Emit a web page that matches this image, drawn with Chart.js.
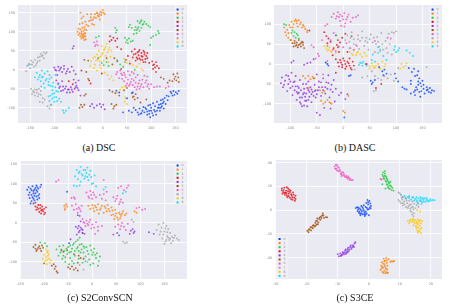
<!DOCTYPE html>
<html lang="en">
<head>
  <meta charset="UTF-8" />
  <title>t-SNE clusters</title>
  <script src="https://cdn.jsdelivr.net/npm/chart.js"></script>
  <style>
    body { margin: 0; background: #fff; width: 463px; height: 307px; overflow: hidden; position: relative; }
    .panel { position: absolute; width: 192px; }
    .caption { position: absolute; transform: translateX(-50%); font: 10px 'Liberation Serif', serif; color: #111; white-space: nowrap; line-height: 12px; }
  </style>
</head>
<body>
  <div class="panel" style="left:0;top:0;height:135px"><canvas id="dsc"></canvas></div>
  <div class="panel" style="left:255px;top:0;height:135px"><canvas id="dasc"></canvas></div>
  <div class="panel" style="left:0;top:154px;height:140px"><canvas id="s2conv"></canvas></div>
  <div class="panel" style="left:255px;top:154px;height:140px"><canvas id="s3ce"></canvas></div>
  <div class="caption" style="left:99px;top:142px">(a) DSC</div>
  <div class="caption" style="left:355px;top:142px">(b) DASC</div>
  <div class="caption" style="left:100px;top:292px">(c) S2ConvSCN</div>
  <div class="caption" style="left:355px;top:292px">(c) S3CE</div>

  <script>
    const classLabels = ['0', '1', '2', '3', '4', '5', '6', '7', '8', '9'];
    const classColors = ['#023eff', '#ff7c00', '#1ac938', '#e8000b', '#8b2be2', '#9f4800', '#f14cc1', '#a3a3a3', '#ffc400', '#00d7ff'];

    // --- (a) DSC
    const dscXTicks = [-150, -100, -50, 0, 50, 100, 150];
    const dscYTicks = [150, 100, 50, 0, -50, -100];
    const dsc0 = [[54,-108],[60,-112],[64,-100],[68,-106],[72,-112],[76,-102],[78,-116],[82,-108],[84,-98],[86,-112],[90,-104],[92,-118],[94,-94],[96,-108],[98,-125],[100,-100],[102,-114],[104,-88],[106,-106],[108,-96],[110,-118],[112,-84],[114,-100],[116,-92],[118,-108],[120,-80],[122,-96],[124,-88],[126,-102],[128,-74],[130,-90],[132,-68],[134,-80],[62,-60],[50,-75],[42,-112],[28,-55],[34,-60],[142,-62],[146,-56],[148,-66],[151,-59],[154,-63],[157,-56],[144,-68],[140,-58],[120,-100],[100,-108],[96,-116],[104,-120],[108,-110],[112,-108],[116,-100],[120,-90],[124,-78],[126,-84],[88,-100],[80,-114],[74,-118],[92,-110],[98,-92],[136,-70]];
    const dsc1 = [[-46,150],[-44,135],[-40,140],[-36,126],[-32,146],[-28,128],[-25,138],[-22,120],[-20,132],[-16,146],[-14,136],[-11,148],[-8,140],[-5,152],[-3,144],[0,157],[2,150],[4,146],[-6,132],[-18,118],[-30,115],[-34,118],[-38,112],[-42,122],[-48,120],[-50,108],[-52,100],[-48,96],[-46,106],[-44,100],[-42,92],[-40,102],[-38,96],[-36,88],[-34,104],[-46,88],[-44,82],[-40,84],[-38,78],[-35,80],[-12,150],[-24,146],[-42,110],[-37,106],[-50,92],[-44,94],[-40,92],[-38,88],[-36,96],[-42,86],[-10,142],[-7,146],[-2,150],[-18,138],[-24,130]];
    const dsc2 = [[72,128],[76,122],[80,130],[82,118],[86,126],[90,120],[94,116],[98,112],[68,112],[72,108],[66,104],[76,102],[70,96],[64,94],[60,110],[56,118],[54,112],[26,110],[29,104],[27,98],[46,84],[50,78],[48,72],[54,82],[58,74],[62,76],[52,70],[104,88],[110,92],[114,102],[116,96],[100,84],[98,65],[-14,85],[-8,88],[30,25],[36,14],[42,8],[46,20],[8,20],[12,10],[-2,18],[-10,30],[2,12],[66,0],[92,-18],[78,126],[84,120],[74,112],[70,104],[80,110]];
    const dsc3 = [[15,88],[18,78],[22,84],[26,76],[14,74],[30,82],[60,48],[64,40],[66,54],[70,32],[72,46],[74,38],[76,52],[78,26],[80,44],[82,34],[84,50],[86,40],[88,28],[90,36],[92,44],[68,24],[76,30],[84,20],[102,22],[106,14],[108,6],[110,20],[112,10],[116,4],[104,2],[48,26],[56,16],[52,36],[38,54],[30,60],[-44,-2],[-28,-28],[-25,-36],[-70,-30],[-62,-38],[-2,-10],[96,18],[68,42],[74,48],[80,36],[86,46],[72,28],[82,26],[88,20],[92,30],[62,32]];
    const dsc4 = [[-100,6],[-96,-2],[-92,8],[-88,2],[-84,-6],[-80,10],[-76,-10],[-72,2],[-68,-6],[-64,8],[-60,-2],[-56,-12],[-94,-14],[-90,-48],[-86,-56],[-82,-44],[-78,-50],[-74,-60],[-70,-52],[-66,-46],[-62,-58],[-58,-50],[-54,-42],[-50,-54],[-56,-34],[-50,-28],[-60,-26],[-92,-36],[-96,-28],[-26,-96],[-22,-90],[-18,-100],[-12,-94],[-6,-90],[-3,-98],[1,-92],[4,-104],[-62,56],[-60,62],[-46,-68],[-84,-30],[-98,0],[-90,-2],[-86,6],[-80,2],[-74,-4],[-72,-52],[-68,-60],[-64,-52],[-76,-44],[-82,-54],[-56,-46],[-52,-48],[-88,-44]];
    const dsc5 = [[146,-12],[150,-18],[154,-10],[148,-24],[152,-28],[156,-20],[144,-30],[138,-28],[134,-34],[157,-32],[60,-62],[64,-70],[68,-64],[72,-74],[66,-78],[62,-72],[14,-54],[20,-58],[26,-62],[34,-68],[44,-54],[50,-48],[-45,-92],[-42,-98],[-48,-100],[-38,-92],[18,-90],[24,-96],[28,-92],[22,-102],[-35,-64],[-38,-68],[-30,-24],[-34,-6],[-30,24],[-38,26],[24,30],[30,22],[38,2],[104,12],[110,-6],[120,-20],[126,-24],[90,-78],[20,14],[8,30],[78,-86]];
    const dsc6 = [[-18,72],[-14,66],[-12,74],[-16,62],[-10,64],[30,-6],[36,-2],[40,-14],[34,-22],[44,-8],[48,-20],[52,-4],[56,-14],[60,-24],[64,-10],[68,-20],[44,-30],[50,-36],[58,-32],[62,-40],[68,-34],[72,-44],[76,-28],[80,-38],[84,-46],[88,-34],[92,-44],[96,-50],[76,-50],[70,-52],[100,-38],[106,-46],[112,-44],[118,-44],[130,-48],[136,-44],[28,-12],[40,-24],[54,-42],[66,-46],[82,-26],[86,-16],[38,-10],[46,-14],[52,-26],[56,-38],[64,-28],[74,-36],[78,-44],[90,-28],[60,-6],[72,-14],[94,-38],[48,-42]];
    const dsc7 = [[-158,-4],[-156,10],[-152,16],[-150,4],[-148,24],[-146,14],[-142,8],[-140,26],[-136,18],[-134,32],[-130,24],[-126,36],[-122,30],[-118,42],[-128,42],[-116,46],[-122,46],[-148,-50],[-144,-56],[-140,-52],[-146,-64],[-136,-60],[-132,-50],[-128,-56],[-140,-68],[-134,-70],[-128,-66],[-124,-74],[-130,-84],[-124,-86],[-114,-96],[-110,-102],[-108,-92],[-120,-78],[-144,20],[-138,12],[-134,22],[-130,34],[-124,38],[-150,14],[-142,-60],[-136,-52],[-132,-64]];
    const dsc8 = [[-24,22],[-20,30],[-16,14],[-12,40],[-10,26],[-8,50],[-6,12],[-4,34],[-2,62],[0,44],[2,24],[4,54],[6,36],[8,68],[10,46],[12,20],[14,58],[16,34],[18,50],[-18,4],[-12,-2],[-4,4],[4,-8],[10,-14],[14,-24],[18,-18],[22,-28],[-26,10],[36,-52],[40,-46],[30,-60],[46,-44],[48,-76],[46,-84],[50,-90],[46,-72],[44,28],[50,18],[56,22],[62,12],[70,8],[76,16],[80,2],[84,-2],[-14,24],[-8,32],[-6,22],[-2,40],[2,52],[6,60],[12,52],[-16,34]];
    const dsc9 = [[-140,-20],[-136,-8],[-134,-26],[-130,-14],[-128,-30],[-126,-2],[-124,-18],[-122,-36],[-120,-10],[-116,-24],[-114,-4],[-112,-32],[-110,-14],[-108,-42],[-106,-20],[-104,-54],[-102,-34],[-100,-62],[-98,-46],[-104,-76],[-100,-84],[-110,-82],[-106,-92],[-112,-70],[-96,-72],[-92,-58],[-92,-38],[-90,-76],[-86,-84],[-98,-14],[-82,-107],[-80,-113],[-76,-108],[-70,-100],[-120,-48],[-127,-44],[-154,12],[-132,-20],[-126,-20],[-118,-28],[-110,-24],[-104,-44],[-100,-72],[-108,-68],[-96,-56],[-104,-64],[-94,-82],[-112,-40]];

    // --- (b) DASC
    const dascXTicks = [-100, -50, 0, 50, 100, 150];
    const dascYTicks = [100, 50, 0, -50, -100];
    const dasc0 = [[100,-36],[104,-44],[112,-58],[116,-62],[120,-64],[124,-10],[130,-20],[134,-12],[136,-30],[140,-28],[142,-18],[144,-36],[146,-48],[138,-58],[134,-70],[128,-74],[136,-78],[140,-64],[144,-70],[148,-56],[150,-42],[152,-62],[154,-74],[146,-82],[158,-66],[162,-70],[164,-60],[168,-66],[172,-68],[158,-58],[128,-42],[52,-42],[56,-46],[60,-40],[54,-50],[74,-18],[78,-14],[82,-24],[76,-28],[68,-8],[11,-30],[14,-28],[-30,0],[-28,-4],[-33,4],[2,-134],[98,-24],[128,-50],[142,-52],[148,-68],[152,-52],[142,-44],[136,-66],[160,-64],[166,-72]];
    const dasc1 = [[-106,86],[-110,80],[-108,72],[-104,66],[-100,60],[-112,92],[-102,98],[-98,106],[-92,108],[-88,102],[-84,110],[-80,104],[-76,98],[-72,88],[-68,80],[-94,100],[-86,94],[-78,92],[-90,112],[-96,92],[-76,-30],[-72,-36],[-66,-30],[-62,-38],[-58,-32],[-54,-36],[-42,-92],[-38,-100],[-34,-96],[-30,-90],[-26,-96],[-22,-100],[-44,-66],[-40,-72],[-36,-68],[-24,-98],[0,-118],[3,-122],[-65,-60],[10,-80],[-68,84],[-104,78],[-100,92],[-82,100],[-88,108],[-74,94]];
    const dasc2 = [[-112,100],[-108,98],[-96,84],[-92,80],[-88,76],[-94,70],[-90,66],[-86,72],[-84,64],[-98,78],[-13,72]];
    const dasc3 = [[-36,80],[-32,70],[-28,64],[-30,52],[-24,56],[-18,40],[-14,72],[-10,60],[-6,54],[-12,48],[-2,66],[4,76],[-14,12],[-10,4],[-6,10],[-2,-2],[2,8],[6,-6],[10,2],[14,-10],[18,6],[4,-12],[0,14],[-8,-6],[12,14],[20,-4],[16,-14],[-20,22],[-14,-22],[44,0],[62,-60],[72,-50],[-8,30],[8,30],[-64,84],[-4,4],[4,0],[8,6],[-2,-8],[12,-4]];
    const dasc4 = [[-118,-48],[-116,-34],[-114,-58],[-110,-42],[-108,-28],[-106,-68],[-104,-50],[-102,-38],[-100,-60],[-98,-22],[-96,-78],[-94,-46],[-92,-66],[-90,-30],[-88,-90],[-86,-56],[-84,-72],[-82,-40],[-80,-100],[-78,-84],[-76,-50],[-74,-62],[-72,-92],[-70,-74],[-68,-106],[-66,-44],[-64,-82],[-62,-58],[-60,-96],[-58,-70],[-56,-36],[-54,-52],[-52,-84],[-50,-122],[-48,-66],[-46,-44],[-44,-128],[-42,-80],[-40,-58],[-38,-36],[-36,-110],[-34,-74],[-32,-46],[-30,-62],[-28,-28],[-26,-84],[-24,-112],[-22,-52],[-20,-70],[-18,-40],[-16,-94],[-14,-62],[-92,-44],[-84,-60],[-76,-76],[-68,-60],[-78,-106],[-86,-74],[-70,-50],[-60,-76],[-96,-56],[-104,-30],[-66,-90],[-52,-66],[-8,-78],[-4,-72],[4,-88],[8,-76],[-98,4],[-94,8],[-74,-2],[-68,2],[-62,4],[-56,12],[-50,-26],[-112,-52],[-100,-44],[-90,-56],[-88,-70],[-82,-84],[-80,-66],[-74,-72],[-72,-82],[-70,-92],[-66,-66],[-64,-70],[-60,-64],[-56,-80],[-54,-68],[-50,-76],[-82,-96],[-74,-104],[-46,-58],[-42,-46],[-38,-66],[-34,-58],[-28,-48],[-24,-64]];
    const dasc5 = [[-99,60],[-96,52],[-92,58],[-90,46],[-88,54],[-86,42],[-84,60],[-82,50],[-80,44],[-78,56],[-76,48],[-74,40],[-94,44],[-84,48],[-10,42],[16,70],[-88,48],[-80,52],[-92,52],[-76,54]];
    const dasc6 = [[-22,118],[-18,126],[-14,114],[-10,130],[-6,108],[-2,120],[2,128],[6,112],[10,124],[14,106],[18,116],[24,118],[28,122],[-4,96],[2,94],[-30,100],[-34,96],[-60,48],[-56,42],[-40,60],[-30,46],[-20,36],[-14,32],[-8,44],[0,42],[6,52],[12,40],[20,36],[26,46],[-46,20],[-52,14],[-30,8],[-38,-26],[60,58],[84,66],[90,64],[-24,60],[-18,78],[-48,26],[-12,120],[-6,124],[0,112],[4,102],[-8,118],[8,118]];
    const dasc7 = [[4,60],[8,72],[12,56],[16,80],[20,62],[24,48],[28,72],[32,58],[36,82],[40,46],[44,66],[48,36],[52,74],[56,54],[60,30],[64,68],[68,44],[72,78],[76,36],[80,58],[84,28],[88,50],[92,24],[86,76],[92,80],[96,78],[100,82],[14,40],[30,38],[46,54],[62,50],[54,-18],[60,-30],[66,-36],[72,-40],[78,-30],[84,-36],[90,-26],[96,-42],[62,-66],[58,-68],[104,-10],[46,-30],[22,-14],[36,-34],[158,-8],[20,50],[36,66],[42,58],[50,62],[58,66],[66,56],[74,50],[70,32],[28,62],[14,66],[82,40]];
    const dasc8 = [[-36,46],[-32,40],[-30,34],[-26,42],[-22,30],[-18,36],[-14,28],[12,30],[16,26],[20,34],[24,22],[28,30],[32,24],[36,18],[40,28],[44,20],[46,-2],[50,-6],[54,2],[58,-10],[62,-4],[66,0],[70,-12],[74,6],[78,-6],[80,0],[50,-12],[110,0],[114,-8],[118,-4],[120,2],[108,-12],[-28,36],[-24,32],[18,22],[26,28],[56,-4],[60,-8],[68,-6]];
    const dasc9 = [[30,-2],[32,4],[36,-4],[38,6],[42,0],[44,-4],[35,2],[54,10],[60,6],[56,24],[66,28],[70,36],[66,42],[76,20],[96,36],[100,30],[104,34],[98,44],[106,40],[120,34],[126,28],[132,20],[82,10]];

    // --- (c) S2ConvSCN
    const s2XTicks = [-150, -100, -50, 0, 50, 100, 150];
    const s2YTicks = [150, 100, 50, 0, -50, -100];
    const s20 = [[-135,85],[-132,92],[-130,78],[-128,88],[-126,72],[-124,94],[-122,82],[-120,70],[-118,90],[-116,96],[-114,80],[-112,88],[-110,74],[-108,92],[-106,98],[-130,64],[-126,56],[-122,62],[-118,52],[-114,60],[-110,64],[-128,50],[-116,68],[-122,76],[-52,80],[-48,-52],[-126,84],[-120,86],[-124,66],[-118,76],[-112,70],[-132,72],[-120,58],[-114,92],[-116,84]];
    const s21 = [[-8,44],[-4,36],[0,46],[4,30],[8,40],[12,48],[16,34],[20,44],[24,26],[28,38],[32,46],[36,30],[40,40],[44,22],[48,34],[52,14],[56,26],[60,18],[64,30],[68,20],[71,24],[46,10],[54,8],[58,12],[-58,44],[-56,38],[-54,48],[-52,42],[-57,34],[88,30],[92,26],[14,24],[40,20],[2,38],[10,34],[18,38],[26,42],[34,36],[42,32],[50,24],[58,22],[62,24],[6,44],[30,30],[48,18]];
    const s22 = [[-74,-68],[-70,-84],[-66,-76],[-62,-92],[-58,-72],[-56,-100],[-52,-80],[-50,-62],[-46,-90],[-44,-74],[-40,-56],[-38,-104],[-36,-84],[-32,-66],[-30,-44],[-28,-92],[-24,-76],[-22,-54],[-20,-102],[-16,-64],[-14,-86],[-10,-72],[-6,-94],[-4,-58],[0,-82],[2,-104],[4,-66],[8,-90],[10,-78],[12,-110],[14,-98],[16,-86],[-26,-38],[-34,-48],[-60,-58],[-68,-60],[-108,-50],[-98,-52],[-94,-60],[-42,-98],[-4,-108],[-18,-76],[-48,-106],[-64,-68],[-60,-84],[-54,-66],[-48,-76],[-42,-66],[-38,-52],[-36,-72],[-30,-62],[-26,-56],[-22,-68],[-18,-60],[-12,-62],[-8,-80],[-2,-70],[2,-76],[6,-82],[-46,-58],[-56,-88],[-28,-72],[-14,-98]];
    const s23 = [[-122,50],[-118,42],[-116,34],[-112,46],[-110,28],[-108,38],[-106,24],[-104,42],[-102,30],[-100,36],[-98,26],[-96,40],[-112,36],[-106,32],[-100,22],[-114,40],[-108,46],[-104,34]];
    const s24 = [[-34,-10],[-30,-14],[-28,-8],[-26,-20],[-22,-16],[-20,-26],[-16,-28],[-28,-24],[-30,20],[-26,18],[-24,4],[80,-20],[84,-16],[86,-26],[78,-28],[88,-22],[44,-30],[52,-26],[56,-32],[-45,-42],[128,-28],[118,-24],[-32,-30],[-24,-12],[-20,-18]];
    const s25 = [[-122,-62],[-118,-56],[-114,-68],[-110,-60],[-106,-72],[-104,-58],[-102,-64],[-116,-72],[-80,-106],[-78,-118],[-76,-112],[-74,-124],[-72,-128],[-84,-110],[-100,-104],[-50,-114],[-46,-118],[-42,-112],[-38,-120],[-34,-116],[-30,-122],[-38,-80],[-28,-84],[-24,-90],[-18,-92],[-60,-74],[-52,-70],[-64,-70],[-20,-26],[-30,-102],[-112,-64],[-118,-66],[-108,-66]];
    const s26 = [[-12,78],[-8,68],[-4,82],[0,62],[4,72],[8,66],[16,72],[20,62],[24,74],[28,58],[-6,64],[44,66],[48,56],[52,70],[56,48],[60,60],[64,52],[54,90],[60,94],[66,84],[72,90],[75,96],[30,80],[24,110],[-43,64],[-38,66],[-36,62],[-42,44],[-38,34],[-34,48],[-30,26],[-28,40],[-24,30],[-22,44],[-26,36],[-20,10],[-16,0],[-12,6],[-8,-6],[-4,8],[0,-4],[4,-12],[8,2],[-14,-8],[-2,-14],[12,-10],[20,-8],[54,-4],[58,-16],[62,0],[66,-10],[70,-18],[74,-2],[48,-10],[92,38],[98,40],[104,34],[110,36],[-75,106],[-70,110],[12,-20],[6,-28],[-2,72],[2,78],[50,62],[58,54],[-32,36],[-18,2],[-10,-2],[-6,2],[60,-8]];
    const s27 = [[134,-18],[138,-4],[140,-30],[144,-12],[146,-40],[148,0],[150,-22],[152,-48],[154,-8],[156,-34],[158,-16],[160,-44],[162,-26],[164,-52],[166,-36],[168,-46],[172,-32],[176,-40],[180,-44],[150,-54],[142,-22],[64,-48],[68,-52],[72,-50],[82,8],[86,2],[-10,-100],[-26,-108],[-18,-120],[152,-14],[156,-24],[148,-30],[158,-38],[162,-40],[154,-44],[170,-38]];
    const s28 = [[-96,-68],[-94,-76],[-92,-72],[-100,-82],[-96,-88],[-92,-84],[-90,-80],[-102,-92],[-98,-98],[-94,-96],[-90,-92],[-88,-102],[-94,-106],[-86,-96]];
    const s29 = [[-36,120],[-32,136],[-30,112],[-28,128],[-24,144],[-24,106],[-20,122],[-18,136],[-16,114],[-12,128],[-10,142],[-8,110],[-6,124],[-4,134],[-2,118],[-38,96],[-32,94],[-26,96],[-1,100],[8,94],[5,122],[24,86],[28,92],[64,76],[70,80],[2,102],[-26,132],[-22,126],[-14,136],[-14,120],[-10,118]];

    // --- (c) S3CE
    const s3XTicks = [-30, -20, -10, 0, 10, 20];
    const s3YTicks = [40, 20, 0, -20, -40];
    const s30 = [[-4.2,1.8],[-3.8,2.6],[-3.4,0.8],[-3.2,-2.2],[-2.9,1.6],[-2.7,-4.2],[-2.4,3.6],[-2.2,-0.8],[-2.0,-3.4],[-1.8,1.2],[-1.6,4.2],[-1.4,-1.8],[-1.3,-4.8],[-1,2.8],[-0.8,6.2],[-0.7,-2.8],[-0.4,0.6],[-0.2,4.8],[0,-4.2],[0.2,7.8],[0.3,2.4],[0.5,5.8],[-0.4,8.6],[0.7,3.6],[-3,-1],[-1.4,-3.4],[-3.6,-0.6],[-2.8,-2.8],[-2.6,0.4],[-2.4,-2.6],[-1.6,-0.2],[-1,-1],[-1,-3.6],[-0.6,2],[-2,2.6],[0,0.8],[-3.4,2.4],[-0.2,6.8],[0.6,1.6]];
    const s31 = [[3.8,-50.2],[4,-46.8],[4.2,-43.8],[4.4,-52],[4.6,-48.4],[4.8,-40.8],[5,-45.6],[5,-51],[5.2,-42.6],[5.4,-48.6],[5.6,-40.2],[5.8,-44.4],[6,-50],[6,-46.8],[6.2,-52.6],[6.4,-41.4],[5.4,-53.2],[7,-43.4],[7.4,-43],[7.8,-43.2],[8.2,-42.8],[4.2,-49],[4.8,-53],[5.2,-47],[5.6,-49.6],[4.6,-45],[5.8,-42.4],[6,-53],[5,-43],[4.4,-47.6],[5.6,-52]];
    const s32 = [[4.4,30],[4.6,32],[4.8,27],[5,29],[5.2,31],[5.4,25],[5.6,28],[5.8,22],[6,26],[6.2,19.6],[6.4,23.4],[6.6,21],[6.8,18],[7,24],[7.2,20],[7.4,17],[7.6,19],[8,16.6],[5.6,24],[4.4,22],[5.4,18.4],[5,26.6],[5.4,29],[5.8,27],[6.2,24.6],[6.6,23],[6,21.6],[7,21],[6.4,18.6],[4.6,28.6],[5.2,33]];
    const s33 = [[-28,18.4],[-27.6,15.4],[-27.2,19],[-27,13],[-26.6,16.6],[-26.2,11],[-26,18.4],[-25.8,14],[-25.4,10.6],[-25.2,16.6],[-24.8,12.4],[-24.6,8.8],[-24.4,15],[-24,10.6],[-23.8,8],[-23.6,12.2],[-26.6,14.4],[-25,13.6],[-27.4,17],[-26.4,19.4],[-25.6,17.4],[-27.8,14],[-26.8,15],[-25.4,15.4],[-26.4,12.4],[-24.6,11],[-24.2,13.2],[-25,9.4],[-23.6,9.6],[-27.2,14.6],[-25.8,12],[-28,16.8],[-26,15.8]];
    const s34 = [[-10,-37],[-9.6,-38.8],[-9.2,-36.4],[-8.8,-38],[-8.4,-35.4],[-8,-37.2],[-7.6,-34],[-7.2,-36],[-6.8,-32.8],[-6.4,-34.4],[-6,-31],[-5.6,-32.6],[-5.2,-29.6],[-4.8,-31],[-4.6,-28],[-4.3,-27],[-7.4,-33],[-8.6,-37.6],[-7.8,-35.6],[-7,-34.6],[-6.6,-31.6],[-6.2,-33],[-5.4,-31.4],[-5,-30.2],[-9,-38.6],[-8.2,-36.2],[-7.4,-37],[-6.8,-35.4],[-5.8,-29.6]];
    const s35 = [[-19.8,-17.4],[-19.4,-18.6],[-19,-16],[-18.6,-17],[-18.4,-14.4],[-18,-15.2],[-17.8,-12.6],[-17.4,-13.8],[-17.2,-10.6],[-16.8,-12],[-16.6,-9],[-16.2,-10.2],[-16,-7.2],[-15.6,-8],[-15.4,-5.4],[-15,-4.4],[-14.8,-2.8],[-14.4,-6.4],[-13.8,-5.8],[-13.4,-6],[-18.8,-14.2],[-18,-13],[-17.2,-13],[-16.4,-11.8],[-15.8,-6],[-17,-9],[-19.4,-16.4],[-15.2,-6.6],[-16.6,-7],[-14.6,-4.4]];
    const s36 = [[-11,37],[-10.6,38.4],[-10.4,35],[-10,36.8],[-9.8,33],[-9.4,34.4],[-9,31],[-8.6,32],[-8.4,29.4],[-8,30.4],[-7.6,28],[-7.2,29],[-6.8,26.8],[-6.4,27.4],[-6,26.6],[-5.6,25.4],[-5.2,25.6],[-8.8,28.8],[3.8,26.4],[4.2,26],[-10.8,35],[-10.2,33.6],[-9.6,36],[-9.2,33],[-8.8,30.4],[-8.2,32],[-7.8,29],[-7,27.6],[-6.6,28.6],[-6.2,25.6],[-10.2,38.2]];
    const s37 = [[9.6,8.6],[10,7.4],[10.4,6],[10.8,9],[11,4.2],[11.4,7.4],[11.8,10.4],[12,2.8],[12.4,6],[12.8,3.4],[13,8],[13.4,1.4],[13.6,5],[14,7.4],[14.2,3],[14.6,5.6],[15,1.8],[15.4,4.4],[15.8,6],[16,3],[13.8,-1.4],[14,-3.6],[14.4,-5],[14.6,-2.4],[10.4,13],[10,14.2],[9.6,15],[11,6],[11.6,5],[12.2,8],[12.6,2],[13.2,4.6],[13.8,2.4],[14.4,0.6],[12,9.6],[11,11.4],[10.6,10.6],[13.4,-0.4]];
    const s38 = [[12.6,-9],[13,-11],[13.4,-8],[13.8,-10],[14,-7.6],[14.4,-12.6],[14.6,-9.6],[15,-8],[15.2,-14],[15.4,-11],[15.6,-17],[15.8,-19],[16,-14.6],[16.2,-9],[16.4,-18],[16.6,-16],[16.8,-11],[17.2,-9],[16.8,-19.4],[17,-15],[15.6,0],[16.6,-0.8],[15.2,-13],[13.2,-9],[14.2,-9],[14.8,-11],[15.4,-9.4],[15.8,-12],[16,-10.6],[16.4,-13],[15.4,-15],[16,-17.4],[14.4,-7.6],[15.8,-7.8],[16.6,-8.4]];
    const s39 = [[10.4,13],[11,11],[11.6,12],[12,10],[12.6,11.2],[13,10.4],[13.6,9],[14,10.8],[14.6,8],[15,9.6],[15.6,7.2],[16,10],[16.4,8],[16.8,9.6],[17.2,6.8],[17.6,8.8],[18,10],[18.4,7.4],[18.8,9],[19.4,7.6],[20,8.2],[20.6,8.6],[21.2,8.4],[16,5.6],[17,5.2],[13,12],[14.4,11],[15.4,11],[16.6,11],[17.4,10.4],[18.6,10.4],[17.8,7.2],[19,8],[15.4,8.4],[16.8,7.8],[19.8,9.4]];

    const dscData = [dsc0, dsc1, dsc2, dsc3, dsc4, dsc5, dsc6, dsc7, dsc8, dsc9];
    const dascData = [dasc0, dasc1, dasc2, dasc3, dasc4, dasc5, dasc6, dasc7, dasc8, dasc9];
    const s2Data = [s20, s21, s22, s23, s24, s25, s26, s27, s28, s29];
    const s3Data = [s30, s31, s32, s33, s34, s35, s36, s37, s38, s39];

    // legend box sits inside the plot, so it is drawn after the points
    function insideLegend(boxX, boxY) {
      return {
        id: 'insideLegend',
        afterDraw(chart) {
          const c = chart.ctx;
          const a = chart.chartArea;
          const x = boxX === 'left' ? a.left + 1 : a.right - 13;
          const y = boxY === 'top' ? a.top + 1.5 : a.bottom - 43;
          c.save();
          c.fillStyle = 'rgba(240,240,246,0.85)';
          c.fillRect(x, y, 12, 42);
          c.font = '3.2px "DejaVu Sans"';
          c.textBaseline = 'middle';
          classLabels.forEach((label, i) => {
            const rowY = y + 3 + i * 4.1;
            c.fillStyle = classColors[i];
            c.fillRect(x + 2.6, rowY - 1, 2, 2);
            c.fillStyle = '#888';
            c.fillText(label, x + 7.5, rowY);
          });
          c.restore();
        }
      };
    }

    function drawPanel(id, classes, xTicks, yTicks, range, box, legendPos) {
      new Chart(document.getElementById(id), {
        type: 'scatter',
        data: {
          datasets: classes.map((points, i) => ({
            label: classLabels[i],
            data: points.map(p => ({ x: p[0], y: p[1] })),
            backgroundColor: classColors[i] + 'c8',
            borderWidth: 0,
            pointRadius: 0.95
          }))
        },
        options: {
          responsive: true,
          maintainAspectRatio: false,
          animation: false,
          layout: { padding: { top: box.top, right: 5, left: 0, bottom: 0 } },
          plugins: { legend: { display: false }, tooltip: { enabled: false } },
          scales: {
            x: {
              min: range[0], max: range[1],
              afterBuildTicks: s => { s.ticks = xTicks.map(v => ({ value: v })); },
              afterFit: s => { s.height = box.bottom; },
              grid: { color: '#ffffff', lineWidth: 0.8, drawTicks: false },
              border: { display: false },
              ticks: { autoSkip: false, maxRotation: 0, padding: 3, color: '#888', font: { size: 3.4, family: 'DejaVu Sans' } }
            },
            y: {
              min: range[2], max: range[3],
              afterBuildTicks: s => { s.ticks = yTicks.map(v => ({ value: v })); },
              afterFit: s => { s.width = box.left; },
              grid: { color: '#ffffff', lineWidth: 0.8, drawTicks: false },
              border: { display: false },
              ticks: { autoSkip: false, padding: 3, color: '#888', font: { size: 3.4, family: 'DejaVu Sans' } }
            }
          }
        },
        plugins: [
          { id: 'plotBg', beforeDraw(chart) {
              const a = chart.chartArea;
              chart.ctx.fillStyle = '#eaeaf2';
              chart.ctx.fillRect(a.left, a.top, a.width, a.height);
          } },
          insideLegend(legendPos[0], legendPos[1])
        ]
      });
    }

    drawPanel('dsc', dscData, dscXTicks, dscYTicks, [-175, 174, -140, 170], { left: 18, top: 4, bottom: 12 }, ['right', 'top']);
    drawPanel('dasc', dascData, dascXTicks, dascYTicks, [-131, 187, -148, 148], { left: 19, top: 3.5, bottom: 12 }, ['right', 'top']);
    drawPanel('s2conv', s2Data, s2XTicks, s2YTicks, [-150, 197, -144, 159], { left: 20, top: 7, bottom: 15 }, ['right', 'top']);
    drawPanel('s3ce', s3Data, s3XTicks, s3YTicks, [-30.2, 23.6, -58, 42.4], { left: 20, top: 6, bottom: 15 }, ['left', 'bottom']);
  </script>
</body>
</html>
